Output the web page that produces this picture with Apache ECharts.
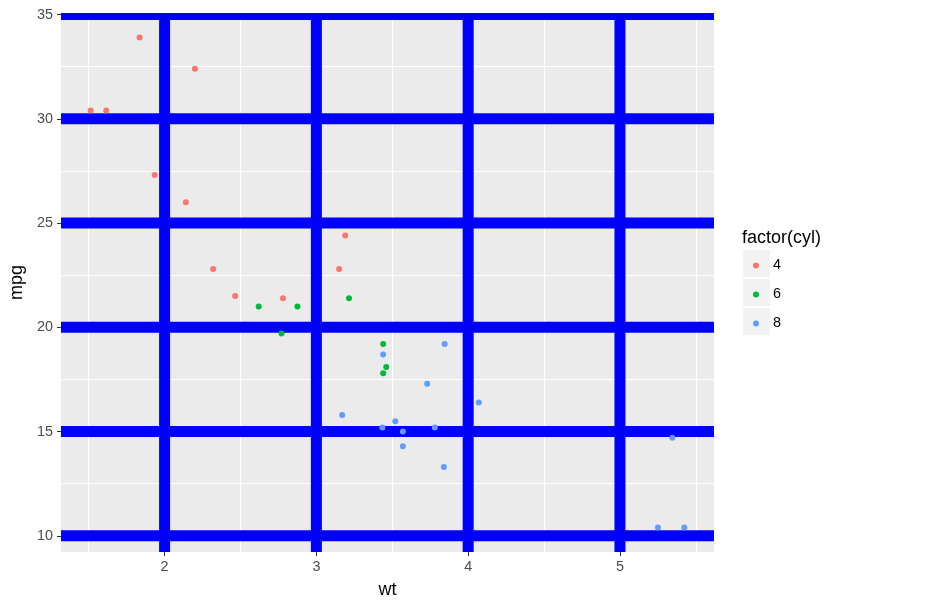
<!DOCTYPE html>
<html><head><meta charset="utf-8">
<script src="https://cdn.jsdelivr.net/npm/echarts@6/dist/echarts.min.js"></script>
<style>html,body{margin:0;padding:0;background:#fff}#c{width:941px;height:612px}</style>
</head><body><div id="c"></div><script>
// mtcars: [wt, mpg]
const cyl4 = [[2.320,22.8],[3.190,24.4],[3.150,22.8],[2.200,32.4],[1.615,30.4],[1.835,33.9],[2.465,21.5],[1.935,27.3],[2.140,26.0],[1.513,30.4],[2.780,21.4]];
const cyl6 = [[2.620,21.0],[2.875,21.0],[3.215,21.4],[3.460,18.1],[3.440,19.2],[3.440,17.8],[2.770,19.7]];
const cyl8 = [[3.440,18.7],[3.570,14.3],[4.070,16.4],[3.730,17.3],[3.780,15.2],[5.250,10.4],[5.424,10.4],[5.345,14.7],[3.520,15.5],[3.435,15.2],[3.840,13.3],[3.845,19.2],[3.170,15.8],[3.570,15.0]];
const xTicks = [2,3,4,5];
const yTicks = [10,15,20,25,30,35];
const xMinor = [1.5,2.5,3.5,4.5,5.5];
const yMinor = [12.5,17.5,22.5,27.5,32.5];
const xRange = [1.3175,5.6196];
const yRange = [9.225,35.075];
const groups = ['4','6','8'];
const colors = ['#F8766D','#00BA38','#619CFF'];
const FONT = '"Liberation Sans", Arial, sans-serif';
const BLUE_W = 11;

const chart = echarts.init(document.getElementById('c'));

const minorSeries = {
  name:'minor', type:'scatter', data:[], silent:true, z:1,
  markLine:{silent:true, z:1, symbol:'none', label:{show:false}, animation:false,
    lineStyle:{color:'#FFFFFF', width:1, type:'solid'}, emphasis:{disabled:true},
    data:[...xMinor.map(v=>({xAxis:v})), ...yMinor.map(v=>({yAxis:v}))]}
};

// thick blue grid lines, clipped to the panel
const blueData = [
  ...xTicks.map(v=>[v, yRange[0], 0]),
  ...yTicks.map(v=>[xRange[0], v, 1])
];
const blueSeries = {
  name:'major', type:'custom', silent:true, z:3, data:blueData,
  renderItem:(params, api)=>{
    const cs = params.coordSys;
    const p = api.coord([api.value(0), api.value(1)]);
    let r;
    if (api.value(2) === 0) r = {x:p[0]-BLUE_W/2, y:cs.y, width:BLUE_W, height:cs.height};
    else r = {x:cs.x, y:p[1]-BLUE_W/2, width:cs.width, height:BLUE_W};
    const c = echarts.graphic.clipRectByRect(r, {x:cs.x, y:cs.y, width:cs.width, height:cs.height});
    if (!c) return null;
    return {type:'rect', shape:c, style:{fill:'#0000FF'}};
  }
};

const axisCommon = {
  type:'value', axisLine:{show:false}, splitLine:{show:false},
  nameLocation:'middle', nameTextStyle:{fontSize:18, color:'#000', fontFamily:FONT}
};
chart.setOption({
  animation:false,
  backgroundColor:'#fff',
  grid:{left:61, top:13, width:653, height:539, show:true, backgroundColor:'#EBEBEB', borderWidth:0},
  xAxis:Object.assign({}, axisCommon, {
    min:xRange[0], max:xRange[1], name:'wt', nameGap:29,
    axisTick:{show:true, customValues:xTicks, length:4, lineStyle:{color:'#333'}},
    axisLabel:{customValues:xTicks, color:'#4D4D4D', fontSize:14.4, margin:8, fontFamily:FONT}
  }),
  yAxis:Object.assign({}, axisCommon, {
    min:yRange[0], max:yRange[1], name:'mpg', nameGap:28,
    axisTick:{show:true, customValues:yTicks, length:4, lineStyle:{color:'#333'}},
    axisLabel:{customValues:yTicks, color:'#4D4D4D', fontSize:14.4, margin:8, fontFamily:FONT}
  }),
  legend:{
    data:groups, orient:'vertical', left:753, top:257, padding:0, itemWidth:24, itemHeight:6,
    itemGap:12, icon:'circle', selectedMode:false,
    textStyle:{fontSize:14.4, color:'#000', lineHeight:17, fontFamily:FONT}
  },
  graphic:[
    {type:'text', left:742, top:229, style:{text:'factor(cyl)', fill:'#000', font:'18px '+FONT}},
    {type:'rect', shape:{x:743,y:250,width:27,height:27}, style:{fill:'#F2F2F2'}},
    {type:'rect', shape:{x:743,y:279,width:27,height:27}, style:{fill:'#F2F2F2'}},
    {type:'rect', shape:{x:743,y:308,width:27,height:27}, style:{fill:'#F2F2F2'}}
  ],
  series:[
    minorSeries,
    blueSeries,
    ...groups.map((g,i)=>({
      name:g, type:'scatter', data:[cyl4,cyl6,cyl8][i], symbolSize:6, z:5,
      itemStyle:{color:colors[i], opacity:1}
    }))
  ]
});
</script></body></html>
